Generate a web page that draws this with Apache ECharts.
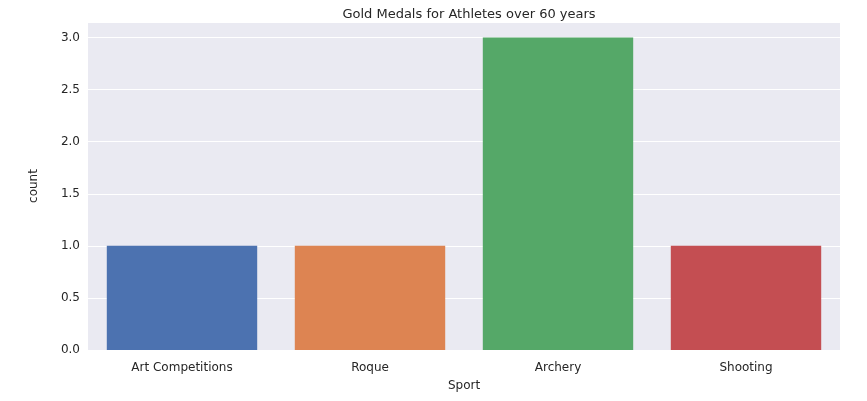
<!DOCTYPE html>
<html>
<head>
<meta charset="utf-8">
<script src="https://cdn.jsdelivr.net/npm/echarts@6/dist/echarts.min.js"></script>
<style>html,body{margin:0;padding:0;background:#fff}#chart{width:867px;height:401px}</style>
</head>
<body>
<div id="chart"></div>
<script>
// data
const sports = ['Art Competitions', 'Roque', 'Archery', 'Shooting'];
const counts = [1, 1, 3, 1];
const barColors = ['#4c72b0', '#dd8452', '#55a868', '#c44e52'];

const chart = echarts.init(document.getElementById('chart'));
chart.setOption({
  animation: false,
  textStyle: { fontFamily: 'DejaVu Sans' },
  title: {
    text: 'Gold Medals for Athletes over 60 years',
    left: 464, top: 3, textAlign: 'center',
    textStyle: { fontSize: 13, fontWeight: 'normal', color: '#262626' }
  },
  grid: {
    left: 88, right: 27, top: 22, bottom: 51,
    show: true, backgroundColor: '#eaeaf2', borderWidth: 0
  },
  xAxis: {
    type: 'category', data: sports,
    name: 'Sport', nameLocation: 'middle', nameGap: 30,
    nameTextStyle: { fontSize: 12, color: '#262626' },
    axisLine: { show: false }, axisTick: { show: false },
    axisLabel: { fontSize: 12, color: '#262626', margin: 12 }
  },
  yAxis: {
    type: 'value', min: 0, max: 3.15, interval: 0.5,
    name: 'count', nameLocation: 'middle', nameGap: 48,
    nameTextStyle: { fontSize: 12, color: '#262626' },
    axisLine: { show: false }, axisTick: { show: false },
    axisLabel: { fontSize: 12, color: '#262626', showMaxLabel: false,
      formatter: v => v.toFixed(1) },
    splitLine: { lineStyle: { color: '#ffffff', width: 1 } }
  },
  series: [{
    type: 'bar',
    data: counts.map((v, i) => ({ value: v, itemStyle: { color: barColors[i] } })),
    barCategoryGap: '20%'
  }]
});
</script>
</body>
</html>
